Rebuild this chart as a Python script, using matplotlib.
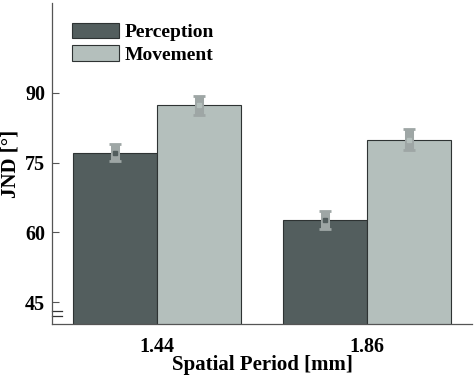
import matplotlib
matplotlib.use("Agg")
import matplotlib.pyplot as plt
import numpy as np

categories = ["1.44", "1.86"]
series_names = ["Perception", "Movement"]
perception = [77.1, 62.6]
movement = [87.3, 79.9]
perception_err = [1.8, 1.9]
movement_err = [2.1, 2.3]
yticks = [45, 60, 75, 90]

plt.rcParams['font.family'] = ['Liberation Serif', 'DejaVu Serif']
plt.rcParams['font.weight'] = 'bold'

fig = plt.figure(figsize=(4.74, 3.8), dpi=100)
ax = fig.add_axes([52/474, 56/380, 420/474, 321/380])

x = np.arange(len(categories))
w = 0.4
c_perc = '#535e5e'
c_mov = '#b4bfbc'
err_c = '#9ea6a5'

ax.bar(x - w/2, perception, w, color=c_perc, edgecolor='#2e3333', linewidth=0.8, label=series_names[0], zorder=2)
ax.bar(x + w/2, movement, w, color=c_mov, edgecolor='#2e3333', linewidth=0.8, label=series_names[1], zorder=2)

for xs, vals, errs, mc in [(x - w/2, perception, perception_err, c_perc), (x + w/2, movement, movement_err, c_mov)]:
    ax.errorbar(xs, vals, yerr=errs, fmt='none', ecolor=err_c, elinewidth=6.5, capsize=4, capthick=2, zorder=3)
    ax.plot(xs, vals, 's', color=mc, markersize=3, zorder=4, linestyle='none')

ax.set_xlim(-0.5, 1.5)
ax.set_ylim(40.3, 109.3)
ax.set_yticks(yticks)
ax.set_xticks(x)
ax.set_xticklabels(categories)
ax.tick_params(axis='y', direction='in', length=5, labelsize=14.5, width=0.8, color='#555555', pad=5)
ax.tick_params(axis='x', length=0, labelsize=14.5, pad=9)
for lab in ax.get_xticklabels() + ax.get_yticklabels():
    lab.set_fontweight('bold')

ax.spines['top'].set_visible(False)
ax.spines['right'].set_visible(False)
for s in ['left', 'bottom']:
    ax.spines[s].set_color('#555555')
    ax.spines[s].set_linewidth(0.9)

# axis break marks
trans = ax.get_yaxis_transform()
for yb in [43.1, 42.05]:
    ax.plot([0, 0.024], [yb, yb], color='#333333', lw=0.9, transform=trans, clip_on=False)

ax.set_xlabel("Spatial Period [mm]", fontsize=15, fontweight='bold')
ax.xaxis.set_label_coords(0.5, -0.098)
ax.set_ylabel("JND [°]", fontsize=15, fontweight='bold', labelpad=3)

leg = ax.legend(loc='upper left', bbox_to_anchor=(0.02, 0.975), frameon=False,
                fontsize=14, handlelength=2.4, handleheight=0.85, handletextpad=0.3,
                labelspacing=0.2, borderaxespad=0.2)
for t in leg.get_texts():
    t.set_fontweight('bold')

fig.savefig("out.png", dpi=100)
